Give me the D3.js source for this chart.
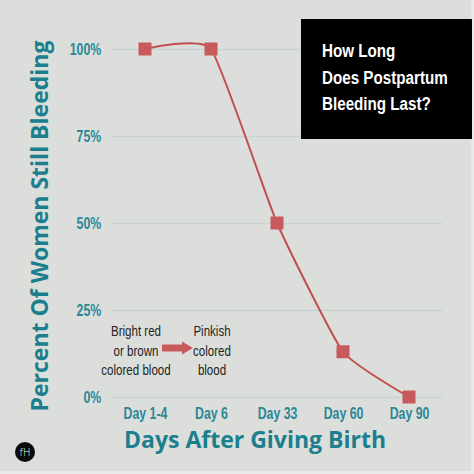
<!DOCTYPE html>
<html>

<head>
  <meta charset="utf-8">
  <title>Postpartum bleeding</title>
  <style>
    body {
      margin: 0;
      background-color: #dcdedc;
    }

    .tick text {
      font-family: 'Liberation Sans', sans-serif;
      font-weight: bold;
      font-size: 16px;
      fill: #2b8796;
    }

    .note {
      font-family: 'Liberation Sans', sans-serif;
      font-size: 15px;
      fill: #1e1e1e;
    }

    .title text {
      font-family: 'Liberation Sans', sans-serif;
      font-weight: bold;
      font-size: 19px;
      fill: #fff;
    }

    .axis-title {
      font-family: 'Open Sans', sans-serif;
      font-weight: bold;
      fill: #1b7f8e;
    }
  </style>
</head>

<body>
  <div id="chart"></div>
  <script src="https://d3js.org/d3.v7.min.js"></script>

  <script>
    var days = ['Day 1-4', 'Day 6', 'Day 33', 'Day 60', 'Day 90'];
    var stillBleeding = [100, 100, 50, 13, 0];
    var yTicks = [0, 25, 50, 75, 100];
    var titleLines = ['How Long', 'Does Postpartum', 'Bleeding Last?'];
    var beforeLines = ['Bright red', 'or brown', 'colored blood'];
    var afterLines = ['Pinkish', 'colored', 'blood'];

    var width = 474,
      height = 474;

    // the picture uses a narrow font, squeeze the regular one instead
    var narrow = 0.77;

    var svg = d3.select('#chart').append('svg')
      .attr('width', width)
      .attr('height', height);

    // light edge on the right and bottom
    svg.append('path')
      .attr('d', 'M472.5,0 V472.5 H0')
      .attr('fill', 'none')
      .attr('stroke', '#e8e9e8')
      .attr('stroke-width', 3);

    var x = d3.scalePoint()
      .domain(days)
      .range([112, 442])
      .padding(0.5);

    var y = d3.scaleLinear()
      .domain([0, 100])
      .range([397, 49]);

    // gridlines + y labels
    var yAxis = svg.append('g')
      .attr('transform', 'translate(112,0)')
      .call(d3.axisLeft(y)
        .tickValues(yTicks)
        .tickSize(-330)
        .tickPadding(14)
        .tickFormat(function(d) {
          return d + '%';
        }));
    yAxis.select('.domain').remove();
    yAxis.selectAll('.tick line')
      .attr('stroke', '#c7d3d2')
      .attr('stroke-width', 1.5);
    yAxis.selectAll('.tick text')
      .attr('transform', 'scale(' + narrow + ',1)');

    // x labels
    var xAxis = svg.append('g')
      .attr('transform', 'translate(0,' + 397 + ')')
      .call(d3.axisBottom(x).tickSize(0).tickPadding(11));
    xAxis.select('.domain').remove();
    xAxis.selectAll('.tick text')
      .attr('transform', 'scale(' + narrow + ',1)');

    // the curve
    var line = d3.line()
      .x(function(d, i) {
        return x(days[i]);
      })
      .y(function(d) {
        return y(d);
      })
      .curve(d3.curveCardinal.tension(0.55));

    svg.append('path')
      .datum(stillBleeding)
      .attr('d', line)
      .attr('fill', 'none')
      .attr('stroke', '#c0504f')
      .attr('stroke-width', 2);

    var s = 13;
    svg.selectAll('rect.marker')
      .data(stillBleeding)
      .enter().append('rect')
      .attr('class', 'marker')
      .attr('x', function(d, i) {
        return x(days[i]) - s / 2;
      })
      .attr('y', function(d) {
        return y(d) - s / 2;
      })
      .attr('width', s)
      .attr('height', s)
      .attr('fill', '#c85a5c');

    // axis titles
    svg.append('text')
      .attr('class', 'axis-title')
      .attr('transform', 'translate(48,226) rotate(-90)')
      .attr('text-anchor', 'middle')
      .style('font-size', '23px')
      .text('Percent Of Women Still Bleeding');

    svg.append('text')
      .attr('class', 'axis-title')
      .attr('x', 255)
      .attr('y', 448)
      .attr('text-anchor', 'middle')
      .style('font-size', '23px')
      .text('Days After Giving Birth');

    // title box
    var title = svg.append('g').attr('class', 'title');
    title.append('rect')
      .attr('x', 301)
      .attr('y', 19)
      .attr('width', 171)
      .attr('height', 120)
      .attr('fill', '#000');
    title.selectAll('text')
      .data(titleLines)
      .enter().append('text')
      .attr('transform', function(d, i) {
        return 'translate(322,' + (57 + i * 26.5) + ') scale(0.8,1)';
      })
      .text(function(d) {
        return d;
      });

    // colour note
    function noteBlock(lines, cx) {
      svg.append('g').selectAll('text')
        .data(lines)
        .enter().append('text')
        .attr('class', 'note')
        .attr('transform', function(d, i) {
          return 'translate(' + cx + ',' + (336 + i * 19.5) + ') scale(' + narrow + ',1)';
        })
        .attr('text-anchor', 'middle')
        .text(function(d) {
          return d;
        });
    }
    noteBlock(beforeLines, 136);
    noteBlock(afterLines, 212);

    svg.append('path')
      .attr('d', 'M162,344.5 H182 V341.5 L193,348 L182,354.5 V351.5 H162 Z')
      .attr('fill', '#c85a5c');

    // logo
    var logo = svg.append('g').attr('transform', 'translate(25,452)');
    logo.append('circle')
      .attr('r', 10)
      .attr('fill', '#0a0a0a');
    logo.append('text')
      .attr('text-anchor', 'middle')
      .attr('dy', '0.35em')
      .attr('fill', '#fff')
      .style('font-family', 'DejaVu Sans, sans-serif')
      .style('font-size', '10px')
      .style('font-weight', '300')
      .text('fH');
  </script>
</body>

</html>
